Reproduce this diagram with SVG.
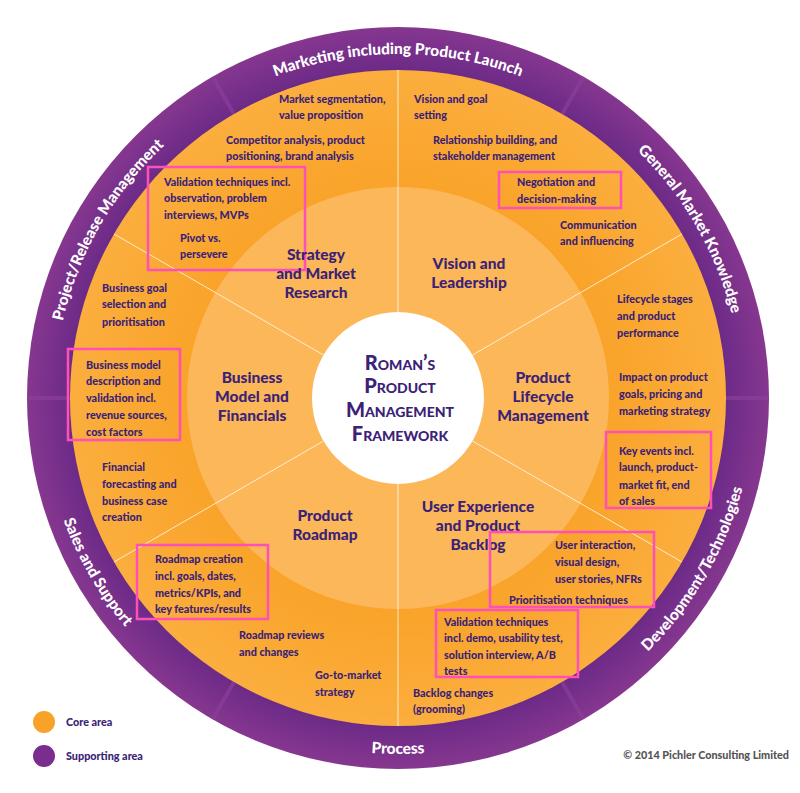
<svg xmlns="http://www.w3.org/2000/svg" width="800" height="793" viewBox="0 0 800 793">
<style>
.it{font-family:Lato,"Liberation Sans",sans-serif;font-weight:900;font-size:10.8px;fill:#3b2277}
.ti{font-family:Lato,"Liberation Sans",sans-serif;font-weight:900;font-size:15.5px;fill:#3b2277;text-anchor:middle}
.rg{font-family:Lato,"Liberation Sans",sans-serif;font-weight:900;font-size:15.5px;fill:#fff;text-anchor:middle}
.ct{font-family:Lato,"Liberation Sans",sans-serif;font-weight:900;font-size:20px;fill:#3b2277;text-anchor:middle;font-variant:small-caps}
.bx{fill:none;stroke:#ff4fb8;stroke-width:2.5}
.dv{stroke:#fff;stroke-opacity:0.75;stroke-width:1}
.sm{stroke:#8a3f9a;stroke-width:4;stroke-opacity:0.7}
</style>
<defs>
<radialGradient id="pg" cx="398" cy="398" r="371" gradientUnits="userSpaceOnUse">
<stop offset="0.88" stop-color="#6b2a87"/><stop offset="1" stop-color="#86378f"/>
</radialGradient>
<radialGradient id="og" cx="398" cy="398" r="328" gradientUnits="userSpaceOnUse">
<stop offset="0.6" stop-color="#f9a227"/><stop offset="1" stop-color="#fbae3e"/>
</radialGradient>
<path id="top" d="M 54 398 A 344 344 0 0 1 742 398"/>
<path id="bot" d="M 42 398 A 356 356 0 0 0 754 398"/>
</defs>
<g id="ring">
<circle cx="398" cy="398" r="371" fill="url(#pg)"/>
<line class="sm" x1="234" y1="114" x2="212.5" y2="76.7"/>
<line class="sm" x1="562" y1="114" x2="583.5" y2="76.7"/>
<line class="sm" x1="726" y1="398" x2="769" y2="398"/>
<line class="sm" x1="562" y1="682" x2="583.5" y2="719.3"/>
<line class="sm" x1="234" y1="682" x2="212.5" y2="719.3"/>
<line class="sm" x1="70" y1="398" x2="27" y2="398"/>
<circle cx="398" cy="398" r="328" fill="url(#og)"/>
<circle cx="398" cy="398" r="211" fill="#fbbb62" fill-opacity="0.85"/>
</g>
<g id="ring-labels">
<text class="rg"><textPath href="#top" startOffset="50%">Marketing including Product Launch</textPath></text>
<text class="rg"><textPath href="#top" startOffset="83.3%">General Market Knowledge</textPath></text>
<text class="rg"><textPath href="#top" startOffset="16.7%">Project/Release Management</textPath></text>
<text class="rg"><textPath href="#bot" startOffset="50%">Process</textPath></text>
<text class="rg"><textPath href="#bot" startOffset="16.7%">Sales and Support</textPath></text>
<text class="rg"><textPath href="#bot" startOffset="83.3%">Development/Technologies</textPath></text>
</g>
<g id="connectors">
<line class="dv" x1="398" y1="312" x2="398" y2="70"/>
<line class="dv" x1="398" y1="484" x2="398" y2="726"/>
<line class="dv" x1="472.5" y1="355" x2="682" y2="234"/>
<line class="dv" x1="472.5" y1="441" x2="682" y2="562"/>
<line class="dv" x1="323.5" y1="355" x2="114" y2="234"/>
<line class="dv" x1="323.5" y1="441" x2="114" y2="562"/>
</g>
<g id="center">
<circle cx="398" cy="398" r="86" fill="#fff"/>
<text class="ct" x="400" y="370">Roman’s</text>
<text class="ct" x="400" y="393">Product</text>
<text class="ct" x="400" y="417">Management</text>
<text class="ct" x="400" y="441">Framework</text>
</g>
<g id="strategy">
<text class="it" x="279" y="103">Market segmentation,</text>
<text class="it" x="279" y="119">value proposition</text>
<text class="it" x="226" y="144">Competitor analysis, product</text>
<text class="it" x="226" y="160">positioning, brand analysis</text>
<text class="it" x="164" y="186">Validation techniques incl.</text>
<text class="it" x="164" y="202">observation, problem</text>
<text class="it" x="164" y="219">interviews, MVPs</text>
<text class="it" x="180" y="242">Pivot vs.</text>
<text class="it" x="180" y="258">persevere</text>
<rect class="bx" x="148" y="167" width="157" height="103"/>
<text class="ti" x="316" y="260">Strategy</text>
<text class="ti" x="316" y="279">and Market</text>
<text class="ti" x="316" y="298">Research</text>
</g>
<g id="business">
<text class="it" x="102" y="292">Business goal</text>
<text class="it" x="102" y="308">selection and</text>
<text class="it" x="102" y="326">prioritisation</text>
<text class="it" x="86" y="369">Business model</text>
<text class="it" x="86" y="385">description and</text>
<text class="it" x="86" y="402">validation incl.</text>
<text class="it" x="86" y="419">revenue sources,</text>
<text class="it" x="86" y="436">cost factors</text>
<rect class="bx" x="68" y="349" width="112" height="91"/>
<text class="it" x="102" y="471">Financial</text>
<text class="it" x="102" y="488">forecasting and</text>
<text class="it" x="102" y="505">business case</text>
<text class="it" x="102" y="521">creation</text>
<text class="ti" x="252" y="383">Business</text>
<text class="ti" x="252" y="402">Model and</text>
<text class="ti" x="252" y="421">Financials</text>
</g>
<g id="roadmap">
<text class="ti" x="325" y="521">Product</text>
<text class="ti" x="325" y="540">Roadmap</text>
<text class="it" x="155" y="563">Roadmap creation</text>
<text class="it" x="155" y="580">incl. goals, dates,</text>
<text class="it" x="155" y="597">metrics/KPIs, and</text>
<text class="it" x="155" y="613">key features/results</text>
<rect class="bx" x="137" y="545" width="131" height="74"/>
<text class="it" x="239" y="639">Roadmap reviews</text>
<text class="it" x="239" y="656">and changes</text>
<text class="it" x="315" y="679">Go-to-market</text>
<text class="it" x="315" y="696">strategy</text>
</g>
<g id="vision">
<text class="it" x="414" y="103">Vision and goal</text>
<text class="it" x="414" y="119">setting</text>
<text class="it" x="433" y="144">Relationship building, and</text>
<text class="it" x="433" y="160">stakeholder management</text>
<text class="it" x="517" y="186">Negotiation and</text>
<text class="it" x="517" y="203">decision-making</text>
<rect class="bx" x="499" y="172" width="122" height="36"/>
<text class="it" x="560" y="229">Communication</text>
<text class="it" x="560" y="245">and influencing</text>
<text class="ti" x="469" y="269">Vision and</text>
<text class="ti" x="469" y="288">Leadership</text>
</g>
<g id="lifecycle">
<text class="it" x="617" y="303">Lifecycle stages</text>
<text class="it" x="617" y="320">and product</text>
<text class="it" x="617" y="337">performance</text>
<text class="it" x="619" y="381">Impact on product</text>
<text class="it" x="619" y="398">goals, pricing and</text>
<text class="it" x="619" y="415">marketing strategy</text>
<text class="it" x="619" y="455">Key events incl.</text>
<text class="it" x="619" y="471">launch, product-</text>
<text class="it" x="619" y="489">market fit, end</text>
<text class="it" x="619" y="505">of sales</text>
<rect class="bx" x="606" y="432" width="105" height="76"/>
<text class="ti" x="543" y="383">Product</text>
<text class="ti" x="543" y="402">Lifecycle</text>
<text class="ti" x="543" y="421">Management</text>
</g>
<g id="ux">
<text class="ti" x="478" y="512">User Experience</text>
<text class="ti" x="478" y="531">and Product</text>
<text class="ti" x="478" y="550">Backlog</text>
<text class="it" x="555" y="549">User interaction,</text>
<text class="it" x="555" y="566">visual design,</text>
<text class="it" x="555" y="583">user stories, NFRs</text>
<text class="it" x="509" y="604">Prioritisation techniques</text>
<rect class="bx" x="490" y="532" width="164" height="75"/>
<text class="it" x="444" y="626">Validation techniques</text>
<text class="it" x="444" y="642">incl. demo, usability test,</text>
<text class="it" x="444" y="659">solution interview, A/B</text>
<text class="it" x="444" y="675">tests</text>
<rect class="bx" x="436" y="610" width="142" height="67"/>
<text class="it" x="413" y="697">Backlog changes</text>
<text class="it" x="413" y="713">(grooming)</text>
</g>
<g id="legend">
<circle cx="44" cy="722" r="11" fill="#f9a227"/>
<text class="it" x="66" y="726">Core area</text>
<circle cx="44" cy="756" r="11" fill="#7a2d8c"/>
<text class="it" x="66" y="760">Supporting area</text>
<text class="it" x="789" y="759" text-anchor="end" style="fill:#555">© 2014 Pichler Consulting Limited</text>
</g>
</svg>
